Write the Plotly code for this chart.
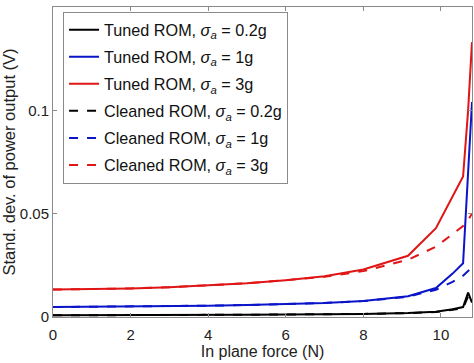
import plotly.graph_objects as go

x_force = [0, 1, 2, 3, 4, 5, 6, 7, 8, 9.15, 9.87, 10.3, 10.57, 10.7, 10.8]

tuned_02 = [0.0008, 0.0008, 0.0009, 0.0009, 0.0010, 0.0011, 0.0012, 0.0013, 0.0015, 0.0019, 0.0025, 0.0038, 0.0048, 0.0118, 0.0070]
tuned_1 = [0.0048, 0.0049, 0.0050, 0.0052, 0.0055, 0.0058, 0.0062, 0.0068, 0.0078, 0.0100, 0.0140, 0.0210, 0.0260, 0.0700, 0.1040]
tuned_3 = [0.0133, 0.0135, 0.0138, 0.0144, 0.0152, 0.0163, 0.0178, 0.0197, 0.0230, 0.0296, 0.0430, 0.0580, 0.0680, 0.1000, 0.1330]
clean_02 = [0.0008, 0.0008, 0.0009, 0.0009, 0.0010, 0.0011, 0.0012, 0.0013, 0.0015, 0.0019, 0.0024, 0.0035, 0.0042, 0.0100, 0.0068]
clean_1 = [0.0048, 0.0049, 0.0050, 0.0052, 0.0055, 0.0058, 0.0062, 0.0068, 0.0077, 0.0098, 0.0132, 0.0170, 0.0200, 0.0220, 0.0240]
clean_3 = [0.0133, 0.0135, 0.0138, 0.0144, 0.0152, 0.0163, 0.0178, 0.0195, 0.0222, 0.0277, 0.0340, 0.0400, 0.0440, 0.0470, 0.0500]

labels = [
    "Tuned ROM, <i>σ</i><sub><i>a</i></sub> = 0.2g",
    "Tuned ROM, <i>σ</i><sub><i>a</i></sub> = 1g",
    "Tuned ROM, <i>σ</i><sub><i>a</i></sub> = 3g",
    "Cleaned ROM, <i>σ</i><sub><i>a</i></sub> = 0.2g",
    "Cleaned ROM, <i>σ</i><sub><i>a</i></sub> = 1g",
    "Cleaned ROM, <i>σ</i><sub><i>a</i></sub> = 3g",
]
series = [tuned_02, tuned_1, tuned_3, clean_02, clean_1, clean_3]
colors = ["#000000", "#0a14c8", "#e01515"] * 2
dashes = ["solid"] * 3 + ["dash"] * 3

fig = go.Figure()
for i, (lab, ys, c, d) in enumerate(zip(labels, series, colors, dashes)):
    fig.add_trace(go.Scatter(x=x_force, y=ys, mode="lines", name=lab,
                             legendgroup=f"g{i}",
                             line=dict(color=c, width=2, dash=d)))

axis_common = dict(showline=True, linecolor="#8a8a8a", linewidth=1, mirror="ticks",
                   ticks="inside", ticklen=4, tickcolor="#8a8a8a", showgrid=False,
                   zeroline=False, automargin=False,
                   tickfont=dict(size=15, color="#222"))
fig.update_layout(
    width=474, height=363,
    margin=dict(l=53, r=2, t=7, b=46),
    paper_bgcolor="white", plot_bgcolor="white",
    font=dict(family="Liberation Sans, Arial, sans-serif", color="#222"),
    xaxis=dict(range=[0, 10.8], tickvals=[0, 2, 4, 6, 8, 10], ticklabelstandoff=4,
               title=dict(text="In plane force (N)", font=dict(size=16), standoff=2),
               **axis_common),
    yaxis=dict(range=[0, 0.15], tickvals=[0, 0.05, 0.1, 0.15],
               ticktext=["0", "0.05", "0.1", "0.15"],
               title=dict(text="Stand. dev. of power output (V)", font=dict(size=16.5), standoff=4),
               **axis_common),
    legend=dict(x=0.024, y=0.985, xanchor="left", yanchor="top",
                bgcolor="white", bordercolor="#8a8a8a", borderwidth=1,
                font=dict(size=16.2, color="#111"), tracegroupgap=3),
    showlegend=True,
)
fig.write_html("out.html", config={"displayModeBar": False},
               post_script="document.body.style.margin='0';document.body.style.padding='0';")
